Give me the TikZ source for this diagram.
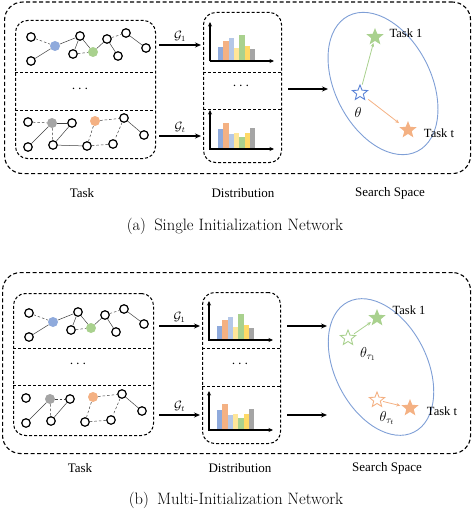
\documentclass[tikz,border=0pt]{standalone}
\usepackage{fontspec}
\newfontfamily\lab{Liberation Serif}
\usetikzlibrary{shapes.geometric,arrows.meta}
\definecolor{cblue}{HTML}{8FAADC}
\definecolor{cpeach}{HTML}{F4B183}
\definecolor{clblue}{HTML}{B4C7E7}
\definecolor{clyel}{HTML}{FFE699}
\definecolor{cgreen}{HTML}{A9D18E}
\definecolor{cgold}{HTML}{FFD966}
\definecolor{cgray}{HTML}{A5A5A5}
\definecolor{cell}{HTML}{7F9FD6}
\definecolor{cstar}{HTML}{5B83D6}
\tikzset{
  outerbox/.style={draw, line width=1.1pt, dash pattern=on 4pt off 2.5pt, rounded corners=18pt},
  innerbox/.style={draw, line width=1pt, dash pattern=on 3pt off 2pt, rounded corners=12pt},
  divider/.style={line width=1pt, dash pattern=on 3pt off 2pt},
  onode/.style={circle, draw, line width=1.2pt, minimum size=8.5pt, inner sep=0pt, fill=white},
  cnode/.style={circle, minimum size=10pt, inner sep=0pt},
  edge/.style={line width=0.5pt, black!75},
  dedge/.style={edge, dash pattern=on 2.5pt off 2pt},
  axis/.style={line width=1.1pt, -{Stealth[length=4.5pt,width=4pt]}},
  bigarrow/.style={line width=1.1pt, -{Stealth[length=6pt,width=5pt]}},
  starfill/.style={star, star points=5, star point ratio=2.3, inner sep=0pt, minimum size=18pt},
  starline/.style={star, star points=5, star point ratio=2.3, inner sep=0pt, minimum size=16pt, draw, line width=0.9pt, fill=white},
  sarrow/.style={line width=0.8pt, -{Stealth[length=4pt,width=3.5pt]}},
  labtext/.style={font=\lab\fontsize{13}{14}\selectfont},
  tasktext/.style={font=\lab\fontsize{12.5}{14}\selectfont},
  captext/.style={font=\fontsize{16.5}{18}\selectfont},
  glabel/.style={above=0pt, font=\large},
  thlabel/.style={font=\Large},
}
\newcommand\mkgraphs[1]{%
  \node[onode] (#1u1) at (31,37) {};
  \node[cnode, fill=cblue] (#1u2) at (55,46) {};
  \node[onode] (#1u3) at (31,61) {};
  \node[onode] (#1u4) at (80,36) {};
  \node[onode] (#1u5) at (73,54) {};
  \node[cnode, fill=cgreen] (#1u6) at (93,52) {};
  \node[onode] (#1u7) at (107,39) {};
  \node[onode] (#1u8) at (126,33) {};
  \node[onode] (#1u9) at (146,48) {};
  \node[onode] (#1u10) at (118,56) {};
  \draw[dedge] (#1u1) -- (#1u2);
  \draw[edge] (#1u2) -- (#1u3);
  \draw[edge] (#1u2) -- (#1u4);
  \draw[edge] (#1u4) -- (#1u5);
  \draw[edge] (#1u4) -- (#1u6);
  \draw[dedge] (#1u5) -- (#1u6);
  \draw[edge] (#1u6) -- (#1u7);
  \draw[dedge] (#1u7) -- (#1u8);
  \draw[edge] (#1u7) -- (#1u10);
  \draw[edge] (#1u8) -- (#1u9);
  \node[onode] (#1l1) at (28,122) {};
  \node[cnode, fill=cgray] (#1l2) at (52,123) {};
  \node[onode] (#1l3) at (72,123) {};
  \node[onode] (#1l4) at (28,147) {};
  \node[onode] (#1l5) at (53,145) {};
  \node[onode] (#1l6) at (87,146) {};
  \node[onode] (#1l7) at (113,144) {};
  \node[cnode, fill=cpeach] (#1l8) at (95,121) {};
  \node[onode] (#1l9) at (124,118) {};
  \node[onode] (#1l10) at (144,135) {};
  \draw[edge] (#1l2) -- (#1l4);
  \draw[dedge] (#1l2) -- (#1l5);
  \draw[edge] (#1l3) -- (#1l5);
  \draw[dedge] (#1l6) -- (#1l7);
  \draw[dedge] (#1l6) -- (#1l8);
  \draw[dedge] (#1l8) -- (#1l9);
  \draw[dedge] (#1l9) -- (#1l7);
  \draw[edge] (#1l9) -- (#1l10);
}
\newcommand\mkhist[3]{% origin x, origin y, heights
  \begin{scope}[shift={(#1,#2)}]
    \foreach \c/\h [count=\i from 0] in {#3}
      \fill[\c] ({8+5.3*\i},-0.6) rectangle ({8+5.3*(\i+1)},{-\h});
    \draw[axis] (-0.5,0) -- (64,0);
    \draw[axis] (0,0.5) -- (0,-39);
  \end{scope}
}
\begin{document}
\begin{tikzpicture}[x=1pt,y=-1pt]
\useasboundingbox (0,0) rectangle (474,511);
% ================= panel (a) =================
\node[outerbox, minimum width=466pt, minimum height=171.5pt, anchor=north west, inner sep=0pt] (outA) at (4,1.5) {};
\node[innerbox, minimum width=140pt, minimum height=138pt, anchor=north west, inner sep=0pt] (taskA) at (15,20) {};
\draw[divider] (15,72) -- (155,72);
\draw[divider] (15,110) -- (155,110);
\node (dotsTA) at (80,89) {\Large$\cdots$};
\begin{scope}
  \mkgraphs{a}
  \draw[dedge] (al1) -- (al2);
  \draw[edge] (al2) -- (al3);
  \draw[edge] (al5) -- (al6);
\end{scope}
\node[innerbox, minimum width=78pt, minimum height=150pt, anchor=north west, inner sep=0pt] (distA) at (203,12) {};
\draw[divider] (203,72) -- (281,72);
\draw[divider] (203,109) -- (281,109);
\node (dotsDA) at (241,86) {\Large$\cdots$};
\mkhist{210}{61}{cblue/14,cpeach/20,clblue/23,clyel/13,cgreen/26,cgold/15,cgray/12}
\mkhist{210}{149}{cblue/20,cpeach/26,clblue/15,clyel/16,cgreen/12,cgold/16,cgray/21}
\coordinate (ga1s) at (159,45); \coordinate (ga1e) at (201,45);
\coordinate (gats) at (159,136); \coordinate (gate) at (201,136);
\draw[bigarrow] (ga1s) -- node[glabel] {$\mathcal{G}_1$} (ga1e);
\draw[bigarrow] (gats) -- node[glabel] {$\mathcal{G}_t$} (gate);
\coordinate (sa0) at (288,89); \coordinate (sa1) at (328,89);
\draw[bigarrow] (sa0) -- (sa1);
\draw[cell, line width=0.9pt] (383,83.5) ellipse [x radius=76, y radius=48, rotate=-63];
\node[starfill, fill=cgreen] (tA1) at (375,37) {};
\node[starline, draw=cstar] (thA) at (360,93) {};
\node[starfill, fill=cpeach] (tAt) at (408,130) {};
\draw[sarrow, cgreen, shorten <=3pt, shorten >=1pt] (thA) -- (tA1);
\draw[sarrow, cpeach, shorten <=5pt, shorten >=6pt] (thA) -- (tAt);
\node[thlabel] (thAl) at (358,112) {$\theta$};
\node[tasktext] (tA1l) at (406,33) {Task 1};
\node[tasktext] (tAtl) at (439,133) {Task t};
\node[labtext] (lTaskA) at (82,193) {Task};
\node[labtext] (lDistA) at (243,193) {Distribution};
\node[labtext] (lSearchA) at (390,193) {Search Space};
\node[captext] (capA) at (235,226) {(a)\enspace Single Initialization Network};
% ================= panel (b) =================
\node[outerbox, minimum width=468pt, minimum height=181pt, anchor=north west, inner sep=0pt] (outB) at (2,272) {};
\node[innerbox, minimum width=140pt, minimum height=142pt, anchor=north west, inner sep=0pt] (taskB) at (13,293) {};
\draw[divider] (13,348) -- (153,348);
\draw[divider] (13,385) -- (153,385);
\node (dotsTB) at (78,364) {\Large$\cdots$};
\begin{scope}[shift={(-2,276)}]
  \mkgraphs{b}
  \draw[dedge] (bl2) -- (bl3);
\end{scope}
\node[innerbox, minimum width=78pt, minimum height=151pt, anchor=north west, inner sep=0pt] (distB) at (202,292) {};
\draw[divider] (202,348) -- (280,348);
\draw[divider] (202,386) -- (280,386);
\node (dotsDB) at (240,364) {\Large$\cdots$};
\mkhist{209}{340}{cblue/14,cpeach/20,clblue/23,clyel/13,cgreen/26,cgold/15,cgray/12}
\mkhist{209}{430}{cblue/20,cpeach/26,clblue/15,clyel/16,cgreen/12,cgold/16,cgray/21}
\coordinate (gb1s) at (159,326); \coordinate (gb1e) at (200,326);
\coordinate (gbts) at (159,415); \coordinate (gbte) at (200,415);
\draw[bigarrow] (gb1s) -- node[glabel] {$\mathcal{G}_1$} (gb1e);
\draw[bigarrow] (gbts) -- node[glabel] {$\mathcal{G}_t$} (gbte);
\coordinate (sb0) at (287,326); \coordinate (sb1) at (327,326);
\coordinate (sb2) at (287,415); \coordinate (sb3) at (327,415);
\draw[bigarrow] (sb0) -- (sb1);
\draw[bigarrow] (sb2) -- (sb3);
\draw[cell, line width=0.9pt] (381,367) ellipse [x radius=73, y radius=46, rotate=-63];
\node[starfill, fill=cgreen] (tB1) at (377,318) {};
\node[starline, draw=cgreen] (thB1) at (348,338) {};
\node[starfill, fill=cpeach] (tBt) at (410,408) {};
\node[starline, draw=cpeach] (thBt) at (377,400) {};
\draw[sarrow, cgreen, shorten <=2pt, shorten >=2pt] (thB1) -- (tB1);
\draw[sarrow, cpeach, shorten <=2pt, shorten >=2pt] (thBt) -- (tBt);
\node[thlabel] (thB1l) at (368,354) {$\theta_{\tau_1}$};
\node[thlabel] (thBtl) at (387,418) {$\theta_{\tau_t}$};
\node[tasktext] (tB1l) at (409,310) {Task 1};
\node[tasktext] (tBtl) at (442,411) {Task t};
\node[labtext] (lTaskB) at (80,468) {Task};
\node[labtext] (lDistB) at (240,468) {Distribution};
\node[labtext] (lSearchB) at (387,468) {Search Space};
\node[captext] (capB) at (236,500) {(b)\enspace Multi-Initialization Network};
\end{tikzpicture}
\end{document}
